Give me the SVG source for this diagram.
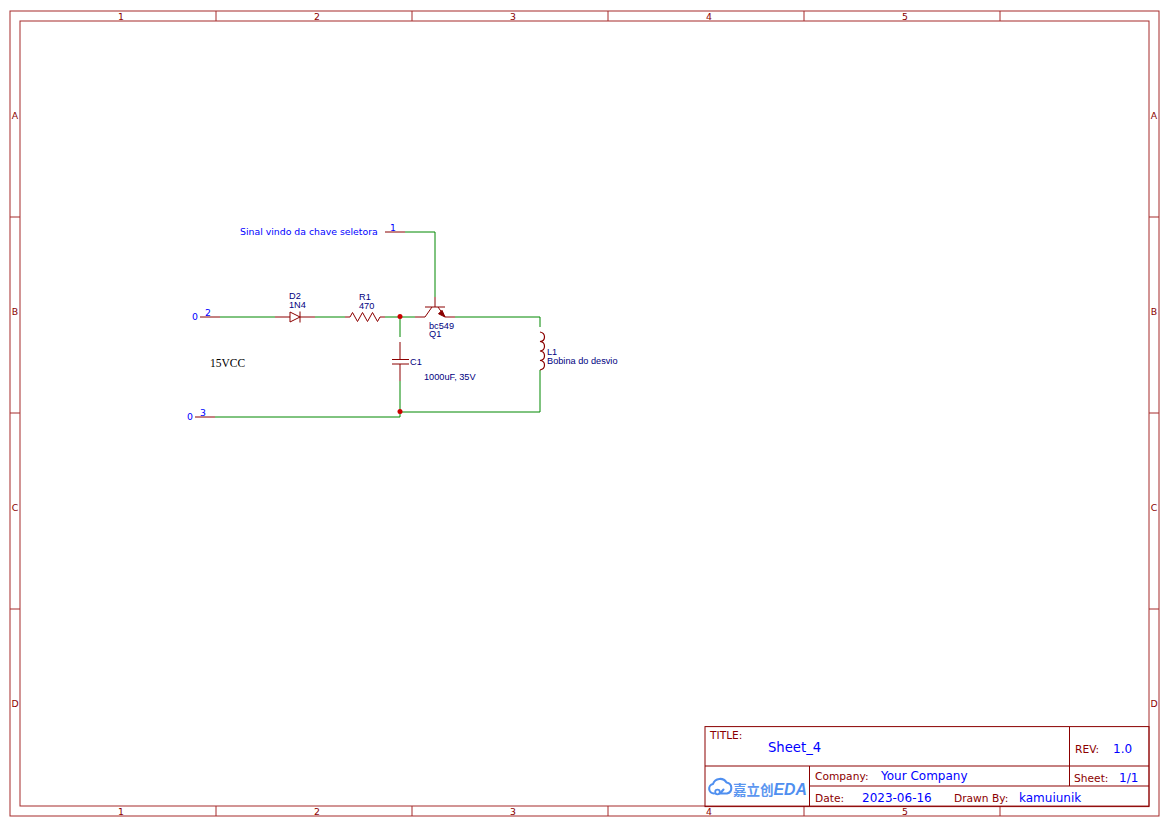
<svg xmlns="http://www.w3.org/2000/svg" width="1169" height="827" viewBox="0 0 1169 827">
<style>
text{font-family:"DejaVu Sans","Liberation Sans",sans-serif}
.f{fill:none;stroke:#a52a2a;stroke-width:1}
.tb{fill:none;stroke:#8b0000;stroke-width:1}
.s{fill:none;stroke:#8b0000;stroke-width:1}
.w{fill:none;stroke:#008800;stroke-width:1}
.p{fill:none;stroke:#880000;stroke-width:1}
.m{fill:#8b0000;font-size:9.330px;text-anchor:middle}
.l{fill:#8b0000;font-size:10.670px}
.v{fill:#0000ff;font-size:12px}
.b{fill:#0000ff;font-size:9.330px}
.n{fill:#000080;font-size:9.200px;font-family:"Liberation Sans",Arial,sans-serif}
</style>
<rect width="1169" height="827" fill="#fff"/>
<g id="frame">
<rect class="f" x="10" y="11" width="1149" height="805"/>
<rect class="f" x="20" y="21" width="1129" height="785"/>
<path class="f" d="M216 11V21M412 11V21M608 11V21M804 11V21M1000 11V21M216 806V816M412 806V816M608 806V816M804 806V816M1000 806V816M10 217H20M10 413H20M10 609H20M1149 217H1159M1149 413H1159M1149 609H1159"/>
<text class="m" x="121" y="19.500">1</text><text class="m" x="317" y="19.500">2</text><text class="m" x="513" y="19.500">3</text><text class="m" x="709" y="19.500">4</text><text class="m" x="905" y="19.500">5</text>
<text class="m" x="121" y="815">1</text><text class="m" x="317" y="815">2</text><text class="m" x="513" y="815">3</text><text class="m" x="709" y="815">4</text><text class="m" x="905" y="815">5</text>
<text class="m" x="15" y="119">A</text><text class="m" x="15" y="315">B</text><text class="m" x="15" y="511">C</text><text class="m" x="15" y="707">D</text>
<text class="m" x="1154" y="119">A</text><text class="m" x="1154" y="315">B</text><text class="m" x="1154" y="511">C</text><text class="m" x="1154" y="707">D</text>
</g>
<g id="title-block">
<rect class="tb" x="705" y="726.600" width="444" height="80"/>
<path class="tb" d="M705 766H1149M809 786H1149M1069.500 727V786M809.500 766V806"/>
<text class="l" x="710" y="739">TITLE:</text>
<text class="v" x="768" y="752" style="font-size:13.200px">Sheet_4</text>
<text class="l" x="1075" y="753">REV:</text>
<text class="v" x="1113" y="753">1.0</text>
<text class="l" x="815" y="780">Company:</text>
<text class="v" x="881" y="780">Your Company</text>
<text class="l" x="1074" y="782">Sheet:</text>
<text class="v" x="1119" y="782">1/1</text>
<text class="l" x="815" y="802">Date:</text>
<text class="v" x="862" y="802">2023-06-16</text>
<text class="l" x="954" y="802">Drawn By:</text>
<text class="v" x="1019" y="802">kamuiunik</text>
</g>
<g id="logo">
<path d="M714 793.500a4.800 4.800 0 0 1-1-9.500 7.500 7.500 0 0 1 13.500-1.500 5.600 5.600 0 0 1 .5 11h-7l3.500-4" fill="none" stroke="#4f8ff0" stroke-width="2.100" stroke-linecap="round" stroke-linejoin="round"/>
<circle cx="717.500" cy="792" r="2.300" fill="none" stroke="#4f8ff0" stroke-width="1.800"/>
<text x="733" y="794.500" fill="#5b96f0" style="font-family:'Noto Sans CJK SC','Noto Sans',sans-serif;font-size:13.500px;font-weight:700">嘉立创</text>
<text x="773.500" y="794.500" fill="#4f8ff0" style="font-family:'Liberation Sans',Arial,sans-serif;font-size:15.800px;font-weight:700;font-style:italic">EDA</text>
</g>
<g id="connectors">
<path class="w" d="M220 317H275M315 317H345M385 317H415M455 317H540V327"/>
<path class="w" d="M215 417H400V381M400 317V337M400 412H540V370M405 232H435V297"/>
<circle cx="400" cy="316.500" r="2.500" fill="#cc0000"/>
<circle cx="400" cy="411.500" r="2.500" fill="#cc0000"/>
</g>
<g id="pin-1"><path class="p" d="M385 232H405"/><text class="b" x="390" y="231">1</text><text class="b" x="240" y="235">Sinal vindo da chave seletora</text></g>
<g id="pin-2"><path class="p" d="M200 317H220"/><text class="b" x="205" y="316">2</text><text class="b" x="192" y="320">0</text></g>
<g id="pin-3"><path class="p" d="M195 417H215"/><text class="b" x="200" y="416">3</text><text class="b" x="187" y="420">0</text></g>
<g id="D2"><path class="s" d="M275 317H290M300 317H315M290 312V322L300 317ZM300 311.500V322.500"/><text class="n" x="289" y="299">D2</text><text class="n" x="289" y="307.500">1N4</text></g>
<g id="R1"><path class="s" d="M345 317H350L352.500 312.500L357.500 321.500L362.500 312.500L367.500 321.500L372.500 312.500L377.500 321.500L380 317H385"/><text class="n" x="359" y="300">R1</text><text class="n" x="359" y="309">470</text></g>
<g id="C1"><path class="s" d="M400 342V359.500M392 359.500H409M392 364H409M400 364V381"/><text class="n" x="410" y="364.500">C1</text><text class="n" x="424" y="380">1000uF, 35V</text></g>
<g id="Q1"><path class="s" d="M435 297V307M425 307H445M415 317H425L432 307M438 307L445 317H455"/><path d="M445 317L438.500 313.800L442 310.300Z" fill="#8b0000" stroke="#8b0000"/><text class="n" x="429" y="329">bc549</text><text class="n" x="429" y="337">Q1</text></g>
<g id="L1"><path class="s" style="stroke-width:1.200" d="M540 332C546 333 546 341 540 341.500C546 342 546 350.500 540 351C546 351.500 546 360 540 360.500C546 361 546 369 540 370"/><text class="n" x="547" y="355">L1</text><text class="n" x="547" y="364">Bobina do desvio</text></g>
<g id="note"><text x="210" y="367" fill="#000" style="font-family:'Liberation Serif','Times New Roman',serif;font-size:11.500px">15VCC</text></g>
</svg>
